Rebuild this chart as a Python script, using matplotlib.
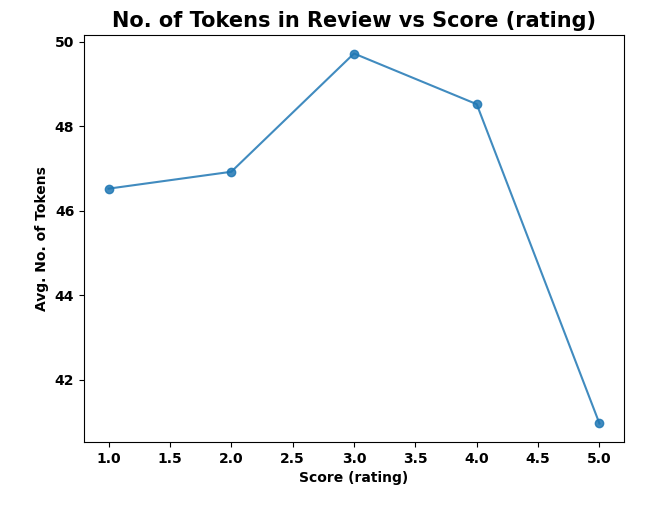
import matplotlib
matplotlib.use("Agg")
import matplotlib.pyplot as plt

scores = [1.0, 2.0, 3.0, 4.0, 5.0]
avg_tokens = [46.52, 46.92, 49.72, 48.52, 40.96]

fig = plt.figure(figsize=(6.49, 5.07), dpi=100)
ax = fig.add_axes([84/649, 1-442/507, 540/649, 407/507])
ax.plot(scores, avg_tokens, color="#1f77b4", alpha=0.85, marker="o", markerfacecolor="#1f77b4", markeredgecolor="#1f77b4")
ax.set_title("No. of Tokens in Review vs Score (rating)", fontsize=15, fontweight="bold")
ax.set_xlabel("Score (rating)", fontsize=10, fontweight="bold")
ax.set_ylabel("Avg. No. of Tokens", fontsize=10, fontweight="bold")
for lab in ax.get_xticklabels() + ax.get_yticklabels():
    lab.set_fontweight("bold")
fig.savefig("out.png", dpi=100)
